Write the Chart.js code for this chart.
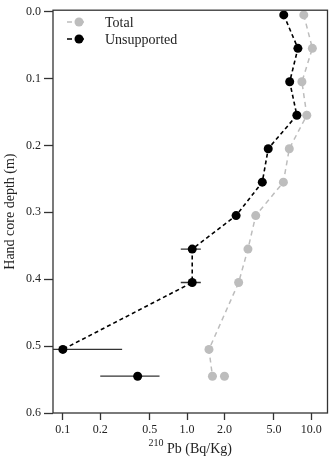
<!DOCTYPE html>
<html lang="en">
<head>
<meta charset="UTF-8">
<title>210Pb profile</title>
<style>
    body { margin: 0; background: #fff; }
    canvas { display: block; }
</style>
<script src="https://cdn.jsdelivr.net/npm/chart.js"></script>
</head>
<body>
<canvas id="chart" width="332" height="461"></canvas>
<script>
// depths (m)
const unsupportedDepth = [0.005, 0.055, 0.105, 0.155, 0.205, 0.255, 0.305, 0.355, 0.405, 0.505, 0.545];
const totalDepth = [0.005, 0.055, 0.105, 0.155, 0.205, 0.255, 0.305, 0.355, 0.405, 0.505, 0.545, 0.545];

// 210Pb activity (Bq/Kg)
const totalValues = [8.7, 10.2, 8.4, 9.2, 6.65, 5.96, 3.57, 3.09, 2.60, 1.50, 1.60, 2.0];
const unsupportedValues = [6.0, 7.8, 6.7, 7.65, 4.5, 4.03, 2.48, 1.10, 1.10, 0.10, 0.40];
const unsupportedLow = [null, null, null, null, 4.2, 3.75, null, 0.89, 0.89, 0.03, 0.20];
const unsupportedHigh = [null, null, null, null, 4.8, 4.3, null, 1.29, 1.29, 0.30, 0.60];

const xTicks = [0.1, 0.2, 0.5, 1, 2, 5, 10];
const xTickLabels = ['0.1', '0.2', '0.5', '1.0', '2.0', '5.0', '10.0'];
const yTicks = [0, 0.1, 0.2, 0.3, 0.4, 0.5, 0.6];
const yTickLabels = ['0.0', '0.1', '0.2', '0.3', '0.4', '0.5', '0.6'];

const seriesNames = ['Total', 'Unsupported'];
const GREY = '#bdbdbd';
const INK = '#222';
const SERIF = "'Liberation Serif', 'DejaVu Serif', serif";

Chart.defaults.font.family = SERIF;
Chart.defaults.color = INK;

function toXY(xs, ys) {
    return xs.map((v, i) => ({ x: v, y: ys[i] }));
}

// error bars, box, legend and x title
const extras = {
    id: 'extras',
    beforeDatasetsDraw(chart) {
        const { ctx, chartArea: a, scales: { x, y } } = chart;
        ctx.save();
        ctx.beginPath();
        ctx.rect(a.left, a.top, a.right - a.left, a.bottom - a.top);
        ctx.clip();
        ctx.strokeStyle = '#333';
        ctx.lineWidth = 1.3;
        unsupportedDepth.forEach((d, i) => {
            if (unsupportedLow[i] == null) return;
            const py = y.getPixelForValue(d);
            ctx.beginPath();
            ctx.moveTo(x.getPixelForValue(unsupportedLow[i]), py);
            ctx.lineTo(x.getPixelForValue(unsupportedHigh[i]), py);
            ctx.stroke();
        });
        ctx.restore();
    },
    afterDraw(chart) {
        const { ctx, chartArea: a } = chart;
        ctx.save();
        ctx.strokeStyle = '#333';
        ctx.lineWidth = 1.3;
        ctx.strokeRect(a.left, a.top, a.right - a.left, a.bottom - a.top);

        // legend
        const colors = [GREY, '#000'];
        [22, 39].forEach((ly, i) => {
            ctx.strokeStyle = colors[i];
            ctx.lineWidth = 1.6;
            ctx.setLineDash([5, 7]);
            ctx.beginPath();
            ctx.moveTo(67, ly);
            ctx.lineTo(91, ly);
            ctx.stroke();
            ctx.setLineDash([]);
            ctx.fillStyle = colors[i];
            ctx.beginPath();
            ctx.arc(79, ly, 4.5, 0, Math.PI * 2);
            ctx.fill();
            ctx.fillStyle = INK;
            ctx.font = '14px ' + SERIF;
            ctx.textBaseline = 'middle';
            ctx.textAlign = 'left';
            ctx.fillText(seriesNames[i], 105, ly + 1);
        });

        // x title with superscript
        ctx.fillStyle = INK;
        ctx.textBaseline = 'alphabetic';
        ctx.font = '10px ' + SERIF;
        const sup = '210';
        const supW = ctx.measureText(sup).width;
        ctx.font = '14px ' + SERIF;
        const main = ' Pb (Bq/Kg)';
        const mainW = ctx.measureText(main).width;
        const start = (a.left + a.right) / 2 - (supW + mainW) / 2;
        ctx.font = '10px ' + SERIF;
        ctx.fillText(sup, start, 446);
        ctx.font = '14px ' + SERIF;
        ctx.fillText(main, start + supW, 453);
        ctx.restore();
    }
};

new Chart(document.getElementById('chart'), {
    type: 'line',
    data: {
        datasets: [
            {
                label: seriesNames[0],
                data: toXY(totalValues, totalDepth),
                borderColor: GREY,
                backgroundColor: GREY,
                borderWidth: 1.5,
                borderDash: [5, 4],
                pointRadius: 4.5,
                pointBorderWidth: 0,
                pointBackgroundColor: GREY
            },
            {
                label: seriesNames[1],
                data: toXY(unsupportedValues, unsupportedDepth),
                borderColor: '#000',
                backgroundColor: '#000',
                borderWidth: 1.6,
                borderDash: [4, 3],
                pointRadius: 4.5,
                pointBorderWidth: 0,
                pointBackgroundColor: '#000',
                segment: {
                    borderColor: c => c.p1DataIndex === unsupportedValues.length - 1 ? 'transparent' : '#000'
                }
            }
        ]
    },
    options: {
        responsive: false,
        animation: false,
        layout: { padding: { top: 3, right: 1, left: 0, bottom: 0 } },
        plugins: {
            legend: { display: false },
            tooltip: { enabled: false }
        },
        scales: {
            x: {
                type: 'logarithmic',
                min: 0.0833,
                max: 13.5,
                afterBuildTicks: s => { s.ticks = xTicks.map(v => ({ value: v })); },
                afterFit: s => { s.height = 48; },
                ticks: {
                    autoSkip: false,
                    maxRotation: 0,
                    padding: 3,
                    font: { size: 12 },
                    color: INK,
                    callback: v => xTickLabels[xTicks.indexOf(v)]
                },
                grid: { drawOnChartArea: false, drawTicks: true, tickLength: 7, color: '#333', tickWidth: 1.3 },
                border: { display: false }
            },
            y: {
                type: 'linear',
                reverse: true,
                min: -0.002,
                max: 0.6,
                afterBuildTicks: s => { s.ticks = yTicks.map(v => ({ value: v })); },
                afterFit: s => { s.width = 53; },
                ticks: {
                    autoSkip: false,
                    padding: 3,
                    font: { size: 12 },
                    color: INK,
                    callback: (v, i) => yTickLabels[yTicks.indexOf(v)]
                },
                grid: { drawOnChartArea: false, drawTicks: true, tickLength: 9, color: '#333', tickWidth: 1.3 },
                border: { display: false },
                title: {
                    display: true,
                    text: 'Hand core depth (m)',
                    font: { size: 14 },
                    color: INK,
                    padding: { top: 2, bottom: 0 }
                }
            }
        }
    },
    plugins: [extras]
});
</script>
</body>
</html>
